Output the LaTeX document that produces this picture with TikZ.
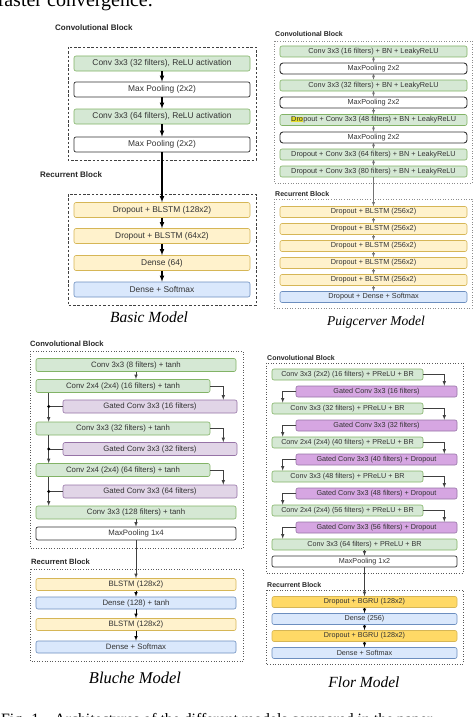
\documentclass[tikz,border=0pt]{standalone}
\usepackage{fontspec}
\setmainfont{Liberation Serif}
\setsansfont{Liberation Sans}
\renewcommand{\familydefault}{\sfdefault}
\definecolor{convfill}{HTML}{D5E8D4}
\definecolor{convline}{HTML}{82B366}
\definecolor{rnnfill}{HTML}{FFF2CC}
\definecolor{rnnline}{HTML}{D6B656}
\definecolor{grufill}{HTML}{FFD966}
\definecolor{densefill}{HTML}{DAE8FC}
\definecolor{denseline}{HTML}{6C8EBF}
\definecolor{gatefill}{HTML}{E1D5E7}
\definecolor{gatestrong}{HTML}{D6A6E2}
\definecolor{gateline}{HTML}{9673A6}
\definecolor{textgray}{HTML}{333333}
\definecolor{hlyellow}{HTML}{E4DC2A}

\begin{document}
\begin{tikzpicture}[x=1pt,y=-1pt,
   box/.style={draw,rounded corners=2pt,inner sep=0pt,text=textgray,line width=0.6pt},
   convbox/.style={box,fill=convfill,draw=convline},
   poolbox/.style={box,fill=white,draw=black!80,line width=0.7pt},
   rnnbox/.style={box,fill=rnnfill,draw=rnnline},
   grubox/.style={box,fill=grufill,draw=rnnline},
   densebox/.style={box,fill=densefill,draw=denseline},
   gatebox/.style={box,fill=gatefill,draw=gateline},
   strongbox/.style={box,fill=gatestrong,draw=gateline},
   basic/.style={minimum width=176pt,minimum height=15pt,font=\fontsize{8.4}{9}\selectfont},
   puig/.style={minimum width=187pt,minimum height=11pt,font=\fontsize{7.3}{8}\selectfont},
   bfull/.style={minimum width=200pt,minimum height=13pt,font=\fontsize{7.8}{8}\selectfont},
   bhalf/.style={minimum width=174pt,minimum height=13pt,font=\fontsize{7.8}{8}\selectfont},
   ffull/.style={minimum width=185pt,minimum height=11pt,font=\fontsize{7.2}{8}\selectfont},
   fconv/.style={minimum width=151pt,minimum height=11pt,font=\fontsize{7.2}{8}\selectfont},
   fgate/.style={minimum width=161pt,minimum height=11pt,font=\fontsize{7.2}{8}\selectfont},
   blocklabel/.style={anchor=west,inner sep=0pt,text=black!85,font=\bfseries\fontsize{#1}{#1}\selectfont},
   caption/.style={inner sep=0pt,font=\rmfamily\itshape\fontsize{#1}{#1}\selectfont},
   bigarrow/.style={black,-latex,line width=1.1pt},
   thinarrow/.style={black!55,-latex,line width=0.4pt},
   flowarrow/.style={black!75,-latex,line width=0.6pt},
   junction/.style={circle,fill=black,inner sep=0pt,minimum size=3.2pt},
   dashframe/.style={black!75,line width=0.9pt,dash pattern=on 2.5pt off 1.8pt},
   dotframe/.style={black!45,line width=0.6pt,dotted}]
   \useasboundingbox (0,0) rectangle (474,717);
   \clip (0,0) rectangle (474,717);

   % text of the page around the figure
   \node[anchor=base east,inner sep=0pt,font=\rmfamily\fontsize{20}{20}\selectfont] (bodytext) at (153,7) {faster convergence.};
   \node[anchor=base west,inner sep=0pt,font=\rmfamily\fontsize{15.8}{16}\selectfont] (figtext) at (1,724) {Fig. 1.\hspace{0.7em}Architectures of the different models compared in the paper};

   % Basic model
   \node[blocklabel=8] (bconvlabel) at (55,28) {Convolutional Block};
   \draw[dashframe] (68,47) rectangle (256,160);
   \node[blocklabel=8] (brnnlabel) at (40,175) {Recurrent Block};
   \draw[dashframe] (68,194) rectangle (256,305);
   \node[convbox,basic] (b1) at (162,63.5) {Conv 3x3 (32 filters), ReLU activation};
   \node[poolbox,basic] (b2) at (162,89.5) {Max Pooling (2x2)};
   \node[convbox,basic] (b3) at (162,116.5) {Conv 3x3 (64 filters), ReLU activation};
   \node[poolbox,basic] (b4) at (162,144.5) {Max Pooling (2x2)};
   \node[rnnbox,basic] (b5) at (162,210) {Dropout + BLSTM (128x2)};
   \node[rnnbox,basic] (b6) at (162,236) {Dropout + BLSTM (64x2)};
   \node[rnnbox,basic] (b7) at (162,263) {Dense (64)};
   \node[densebox,basic] (b8) at (162,289.5) {Dense + Softmax};
   \draw[bigarrow] (b1)--(b2);
   \draw[bigarrow] (b2)--(b3);
   \draw[bigarrow] (b3)--(b4);
   \draw[bigarrow] (b4)--(b5);
   \draw[bigarrow] (b5)--(b6);
   \draw[bigarrow] (b6)--(b7);
   \draw[bigarrow] (b7)--(b8);
   \node[caption=15.5] (bcap) at (149,317) {Basic Model};

   % Puigcerver model
   \node[blocklabel=7] (pconvlabel) at (275,34) {Convolutional Block};
   \draw[dotframe] (274,41) rectangle (472,183);
   \node[blocklabel=7] (prnnlabel) at (275,194) {Recurrent Block};
   \draw[dotframe] (274,199) rectangle (472,308);
   \node[convbox,puig] (p1) at (373.5,51.5) {Conv 3x3 (16 filters) + BN + LeakyReLU};
   \node[poolbox,puig,line width=0.9pt,rounded corners=3pt] (p2) at (373.5,68.5) {MaxPooling 2x2};
   \node[convbox,puig] (p3) at (373.5,85.5) {Conv 3x3 (32 filters) + BN + LeakyReLU};
   \node[poolbox,puig,line width=0.9pt,rounded corners=3pt] (p4) at (373.5,102.5) {MaxPooling 2x2};
   \node[convbox,puig] (p5) at (373.5,120) {{\setlength{\fboxsep}{0.3pt}\colorbox{hlyellow}{Dro}}pout + Conv 3x3 (48 filters) + BN + LeakyReLU};
   \node[poolbox,puig,line width=0.9pt,rounded corners=3pt] (p6) at (373.5,137.5) {MaxPooling 2x2};
   \node[convbox,puig] (p7) at (373.5,154.5) {Dropout + Conv 3x3 (64 filters) + BN + LeakyReLU};
   \node[convbox,puig] (p8) at (373.5,171.5) {Dropout + Conv 3x3 (80 filters) + BN + LeakyReLU};
   \node[rnnbox,puig] (q1) at (373.5,212) {Dropout + BLSTM (256x2)};
   \node[rnnbox,puig] (q2) at (373.5,229) {Dropout + BLSTM (256x2)};
   \node[rnnbox,puig] (q3) at (373.5,246) {Dropout + BLSTM (256x2)};
   \node[rnnbox,puig] (q4) at (373.5,263) {Dropout + BLSTM (256x2)};
   \node[rnnbox,puig] (q5) at (373.5,280) {Dropout + BLSTM (256x2)};
   \node[densebox,puig] (q6) at (373.5,297) {Dropout + Dense + Softmax};
   \draw[thinarrow] (p1)--(p2);
   \draw[thinarrow] (p2)--(p3);
   \draw[thinarrow] (p3)--(p4);
   \draw[thinarrow] (p4)--(p5);
   \draw[thinarrow] (p5)--(p6);
   \draw[thinarrow] (p6)--(p7);
   \draw[thinarrow] (p7)--(p8);
   \draw[thinarrow] (p8)--(q1);
   \draw[thinarrow] (q1)--(q2);
   \draw[thinarrow] (q2)--(q3);
   \draw[thinarrow] (q3)--(q4);
   \draw[thinarrow] (q4)--(q5);
   \draw[thinarrow] (q5)--(q6);
   \node[caption=13.5] (pcap) at (376,322) {Puigcerver Model};

   % Bluche model
   \node[blocklabel=7.6] (cconvlabel) at (30,344) {Convolutional Block};
   \draw[dotframe,black!65] (30,351) rectangle (243,548);
   \node[blocklabel=7.6] (crnnlabel) at (31,562) {Recurrent Block};
   \draw[dotframe,black!65] (30,569) rectangle (243,661);
   \node[convbox,bfull] (c1) at (136,365) {Conv 3x3 (8 filters) + tanh};
   \node[convbox,bhalf] (c2) at (123,386) {Conv 2x4 (2x4) (16 filters) + tanh};
   \node[gatebox,bhalf] (g1) at (150,406.5) {Gated Conv 3x3 (16 filters)};
   \node[convbox,bhalf] (c3) at (123,428.5) {Conv 3x3 (32 filters) + tanh};
   \node[gatebox,bhalf] (g2) at (150,449) {Gated Conv 3x3 (32 filters)};
   \node[convbox,bhalf] (c4) at (123,470) {Conv 2x4 (2x4) (64 filters) + tanh};
   \node[gatebox,bhalf] (g3) at (150,491.5) {Gated Conv 3x3 (64 filters)};
   \node[convbox,bfull] (c5) at (136,512.5) {Conv 3x3 (128 filters) + tanh};
   \node[poolbox,bfull] (c6) at (136,533.5) {MaxPooling 1x4};
   \node[rnnbox,bfull,minimum height=12pt] (u1) at (136,584.5) {BLSTM (128x2)};
   \node[densebox,bfull,minimum height=12pt] (u2) at (136,603) {Dense (128) + tanh};
   \node[rnnbox,bfull,minimum height=12pt] (u3) at (136,624.5) {BLSTM (128x2)};
   \node[densebox,bfull,minimum height=12pt] (u4) at (136,647) {Dense + Softmax};
   \draw[flowarrow] (c1.south)--(c1.south |- c2.north);
   \draw[flowarrow] (c2.east) -| ([xshift=-14pt]g1.north east);
   \draw[flowarrow] (c3.east) -| ([xshift=-14pt]g2.north east);
   \draw[flowarrow] (c4.east) -| ([xshift=-14pt]g3.north east);
   \draw[flowarrow] ([xshift=13pt]c2.south west)--([xshift=13pt]c3.north west);
   \draw[flowarrow] ([xshift=13pt]c3.south west)--([xshift=13pt]c4.north west);
   \draw[flowarrow] ([xshift=13pt]c4.south west)--([xshift=13pt]c5.north west);
   \draw[black!75,line width=0.6pt] (g1.west)--++(-14,0) node[junction] (j1) {};
   \draw[black!75,line width=0.6pt] (g2.west)--++(-14,0) node[junction] (j2) {};
   \draw[black!75,line width=0.6pt] (g3.west)--++(-14,0) node[junction] (j3) {};
   \draw[flowarrow] (c5)--(c6);
   \draw[flowarrow] (c6)--(u1);
   \draw[flowarrow,black] (u1)--(u2);
   \draw[flowarrow,black] (u2)--(u3);
   \draw[flowarrow,black] (u3)--(u4);
   \node[caption=16.5] (ccap) at (135,678) {Bluche Model};

   % Flor model
   \node[blocklabel=7] (fconvlabel) at (267,358) {Convolutional Block};
   \draw[dotframe,black!65] (266,363) rectangle (463,573);
   \node[blocklabel=7] (frnnlabel) at (267,585) {Recurrent Block};
   \draw[dotframe,black!65] (266,590) rectangle (463,664);
   \node[convbox,fconv] (f1) at (347.5,374.5) {Conv 3x3 (2x2) (16 filters) + PReLU + BR};
   \node[strongbox,fgate] (f2) at (376.5,391.5) {Gated Conv 3x3 (16 filters)};
   \node[convbox,fconv] (f3) at (347.5,408.5) {Conv 3x3 (32 filters) + PReLU + BR};
   \node[strongbox,fgate] (f4) at (376.5,425.5) {Gated Conv 3x3 (32 filters)};
   \node[convbox,fconv] (f5) at (347.5,442.5) {Conv 2x4 (2x4) (40 filters) + PReLU + BR};
   \node[strongbox,fgate] (f6) at (376.5,459.5) {Gated Conv 3x3 (40 filters) + Dropout};
   \node[convbox,fconv] (f7) at (347.5,476.5) {Conv 3x3 (48 filters) + PReLU + BR};
   \node[strongbox,fgate] (f8) at (376.5,493.5) {Gated Conv 3x3 (48 filters) + Dropout};
   \node[convbox,fconv] (f9) at (347.5,510.5) {Conv 2x4 (2x4) (56 filters) + PReLU + BR};
   \node[strongbox,fgate] (f10) at (376.5,527.5) {Gated Conv 3x3 (56 filters) + Dropout};
   \node[convbox,ffull] (f11) at (364.5,544.5) {Conv 3x3 (64 filters) + PReLU + BR};
   \node[poolbox,ffull] (f12) at (364.5,561.5) {MaxPooling 1x2};
   \node[grubox,ffull] (v1) at (364.5,602) {Dropout + BGRU (128x2)};
   \node[densebox,ffull] (v2) at (364.5,619) {Dense (256)};
   \node[grubox,ffull] (v3) at (364.5,636) {Dropout + BGRU (128x2)};
   \node[densebox,ffull] (v4) at (364.5,653) {Dense + Softmax};
   \draw[flowarrow] (f1.east) -| ([xshift=-13pt]f2.north east);
   \draw[flowarrow] (f2.west) -| ([xshift=11pt]f3.north west);
   \draw[flowarrow] (f3.east) -| ([xshift=-13pt]f4.north east);
   \draw[flowarrow] (f4.west) -| ([xshift=11pt]f5.north west);
   \draw[flowarrow] (f5.east) -| ([xshift=-13pt]f6.north east);
   \draw[flowarrow] (f6.west) -| ([xshift=11pt]f7.north west);
   \draw[flowarrow] (f7.east) -| ([xshift=-13pt]f8.north east);
   \draw[flowarrow] (f8.west) -| ([xshift=11pt]f9.north west);
   \draw[flowarrow] (f9.east) -| ([xshift=-13pt]f10.north east);
   \draw[flowarrow] (f10.west) -| ([xshift=11pt]f11.north west);
   \draw[flowarrow] (f11)--(f12);
   \draw[flowarrow] (f12)--(v1);
   \draw[flowarrow,black] (v1)--(v2);
   \draw[flowarrow,black] (v2)--(v3);
   \draw[flowarrow,black] (v3)--(v4);
   \node[caption=15.5] (fcap) at (364,682) {Flor Model};
\end{tikzpicture}
\end{document}
